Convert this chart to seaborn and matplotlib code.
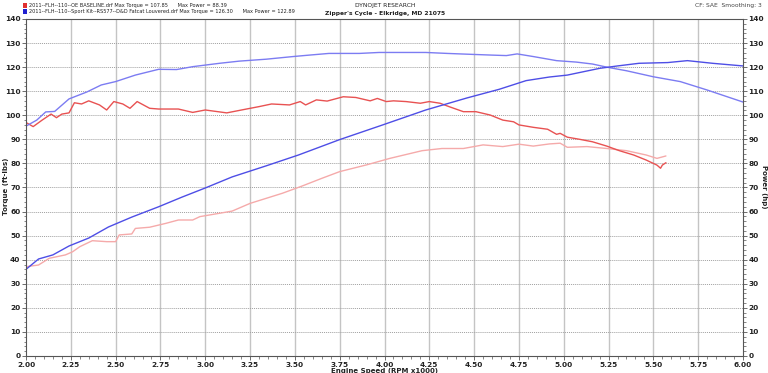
import numpy as np
import pandas as pd
import matplotlib
matplotlib.use("Agg")
import matplotlib.pyplot as plt
from matplotlib.ticker import MultipleLocator
import seaborn as sns

# ---- data ----
rpm_blue_tq = [2.00, 2.06, 2.11, 2.16, 2.24, 2.34, 2.42, 2.50, 2.61, 2.74, 2.84, 2.93, 3.08, 3.19, 3.34,
               3.49, 3.58, 3.69, 3.86, 3.97, 4.23, 4.35, 4.49, 4.60, 4.68, 4.74, 4.83, 4.96, 5.07, 5.16,
               5.24, 5.35, 5.50, 5.65, 5.80, 6.00]
blue_tq = [95.5, 98.0, 101.4, 101.6, 106.8, 109.7, 112.6, 114.0, 116.7, 119.1, 119.0, 120.2, 121.6, 122.5, 123.3,
           124.4, 125.0, 125.7, 125.7, 126.1, 126.1, 125.7, 125.3, 125.0, 124.8, 125.5, 124.4, 122.7, 122.1, 121.3,
           120.0, 118.5, 116.0, 114.0, 110.5, 105.5]

rpm_blue_hp = [2.00, 2.07, 2.15, 2.24, 2.35, 2.46, 2.59, 2.74, 2.87, 3.00, 3.15, 3.34, 3.52, 3.75, 3.99,
               4.23, 4.46, 4.64, 4.79, 4.92, 5.02, 5.11, 5.20, 5.30, 5.42, 5.58, 5.69, 5.83, 6.00]
blue_hp = [36.0, 40.3, 42.0, 45.7, 49.0, 53.6, 57.7, 62.0, 66.0, 69.8, 74.4, 79.0, 83.5, 89.9, 96.0,
           102.2, 107.2, 110.8, 114.4, 115.9, 116.7, 118.1, 119.5, 120.5, 121.6, 121.9, 122.7, 121.6, 120.5]

rpm_red_tq = [2.00, 2.04, 2.09, 2.14, 2.17, 2.20, 2.24, 2.27, 2.31, 2.35, 2.41, 2.45, 2.49, 2.54, 2.58,
              2.62, 2.69, 2.74, 2.85, 2.93, 3.00, 3.12, 3.23, 3.30, 3.37, 3.47, 3.53, 3.56, 3.62, 3.68,
              3.77, 3.84, 3.92, 3.96, 4.01, 4.05, 4.12, 4.20, 4.25, 4.31, 4.36, 4.44, 4.51, 4.59, 4.66,
              4.72, 4.75, 4.83, 4.91, 4.96, 4.98, 5.02, 5.09, 5.16, 5.24, 5.31, 5.39, 5.46, 5.52, 5.54,
              5.55, 5.57]
red_tq = [97.0, 95.3, 98.0, 100.5, 99.0, 100.5, 101.0, 105.2, 104.7, 106.0, 104.3, 102.2, 105.7, 104.7, 102.9,
          105.7, 102.9, 102.6, 102.6, 101.2, 102.2, 101.0, 102.6, 103.6, 104.7, 104.3, 105.7, 104.3, 106.4, 105.9,
          107.7, 107.4, 106.0, 107.0, 105.7, 106.0, 105.7, 105.0, 105.7, 105.0, 103.6, 101.5, 101.5, 100.1, 98.0,
          97.3, 96.0, 95.0, 94.2, 92.1, 92.5, 90.9, 90.0, 89.0, 87.2, 85.3, 83.5, 81.4, 79.3, 78.0,
          79.3, 80.3]

rpm_red_hp = [2.00, 2.07, 2.13, 2.22, 2.26, 2.30, 2.37, 2.45, 2.50, 2.52, 2.59, 2.61, 2.69, 2.78, 2.85,
              2.93, 2.97, 3.08, 3.15, 3.25, 3.34, 3.43, 3.54, 3.65, 3.75, 3.90, 4.03, 4.21, 4.32, 4.44,
              4.55, 4.66, 4.75, 4.83, 4.92, 4.98, 5.02, 5.13, 5.24, 5.35, 5.46, 5.52, 5.57]
red_hp = [37.1, 37.8, 40.6, 42.0, 43.3, 45.4, 47.9, 47.5, 47.5, 50.3, 50.7, 53.0, 53.5, 55.1, 56.5,
          56.5, 57.9, 59.3, 60.2, 63.4, 65.5, 67.6, 70.6, 73.8, 76.6, 79.4, 82.1, 85.3, 86.2, 86.2,
          87.7, 87.0, 88.0, 87.2, 88.1, 88.4, 86.7, 87.0, 86.2, 85.3, 83.5, 82.1, 83.1]

x_ticks = [2.00, 2.25, 2.50, 2.75, 3.00, 3.25, 3.50, 3.75, 4.00, 4.25, 4.50, 4.75, 5.00, 5.25, 5.50, 5.75, 6.00]
y_ticks = [0, 10, 20, 30, 40, 50, 60, 70, 80, 90, 100, 110, 120, 130, 140]

legend_lines = ["2011--FLH--110--OE BASELINE.drf Max Torque = 107.85      Max Power = 88.39",
                "2011--FLH--110--Sport Kit--RS577--D&D Fatcat Louvered.drf Max Torque = 126.30      Max Power = 122.89"]

# ---- style ----
sns.set_style("white")
plt.rcParams['font.family'] = ['DejaVu Sans']

fig = plt.figure(figsize=(7.68, 3.73), dpi=100)
ax = fig.add_axes([26/768, 17/373, 717/768, 337/373])

series = [
    (rpm_red_hp, red_hp, "#f5aaaa", 1.0),
    (rpm_red_tq, red_tq, "#e85252", 1.0),
    (rpm_blue_tq, blue_tq, "#7c7cf2", 1.0),
    (rpm_blue_hp, blue_hp, "#4e4ee6", 1.0),
]
for xs, ys, col, lw in series:
    df = pd.DataFrame({"rpm": xs, "val": ys})
    sns.lineplot(data=df, x="rpm", y="val", ax=ax, color=col, linewidth=lw, estimator=None, sort=False)

ax.set_xlim(2.0, 6.0)
ax.set_ylim(0, 140)
ax.set_xticks(x_ticks)
ax.set_xticklabels([f"{t:.2f}" for t in x_ticks])
ax.set_yticks(y_ticks)
ax.xaxis.set_minor_locator(MultipleLocator(0.05))
ax.yaxis.set_minor_locator(MultipleLocator(2))

for x in x_ticks[1:-1]:
    ax.axvline(x, color="#c4c4c4", linewidth=1.0, zorder=0)
for y in y_ticks[1:-1]:
    ax.axhline(y, color="#a0a0a0", linewidth=0.7, linestyle=(0, (1, 1)), zorder=0)

for s in ax.spines.values():
    s.set_color("#555555")
    s.set_linewidth(0.8)

ax.tick_params(axis="both", which="major", length=3, width=0.6, color="#555555",
               labelsize=5.3, pad=1, labelcolor="#222222")
ax.tick_params(axis="both", which="minor", length=1.8, width=0.5, color="#555555")
ax.tick_params(axis="y", which="both", left=True, right=True, labelright=True)
ax.tick_params(axis="x", which="both", bottom=True)
for lab in ax.get_xticklabels() + ax.get_yticklabels():
    lab.set_fontweight("bold")
for t in ax.yaxis.get_major_ticks():
    t.label2.set_fontweight("bold")
    t.label2.set_fontsize(5.3)

ax.set_xlabel("Engine Speed (RPM x1000)", fontsize=5, fontweight="bold", labelpad=0, color="#222222")
ax.set_ylabel("")
fig.text(6/768, 0.5, "Torque (ft-lbs)", rotation=90, fontsize=5, fontweight="bold",
         ha="center", va="center", color="#222222")
fig.text(764/768, 0.5, "Power (hp)", rotation=-90, fontsize=5, fontweight="bold",
         ha="center", va="center", color="#222222")

# header
fig.patches.append(plt.Rectangle((23/768, 1 - 8/373), 4/768, 5/373, transform=fig.transFigure,
                                 facecolor="#e03030", edgecolor="none"))
fig.patches.append(plt.Rectangle((23/768, 1 - 14/373), 4/768, 5/373, transform=fig.transFigure,
                                 facecolor="#2020d0", edgecolor="none"))
fig.text(29/768, 1 - 5.5/373, legend_lines[0], fontsize=3.6, va="center", ha="left", color="#222222")
fig.text(29/768, 1 - 11.5/373, legend_lines[1], fontsize=3.6, va="center", ha="left", color="#222222")
fig.text(385/768, 1 - 5/373, "DYNOJET RESEARCH", fontsize=4.3, va="center", ha="center", color="#222222")
fig.text(385/768, 1 - 13.5/373, "Zipper's Cycle - Elkridge, MD 21075", fontsize=4.3, fontweight="bold",
         va="center", ha="center", color="#222222")
fig.text(762/768, 1 - 5/373, "CF: SAE  Smoothing: 3", fontsize=4.3, va="center", ha="right", color="#444444")

fig.savefig("out.png", dpi=100)
